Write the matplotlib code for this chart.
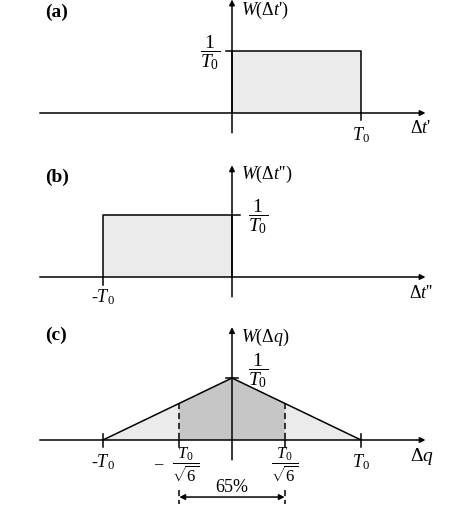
import numpy as np
import matplotlib
matplotlib.use('Agg')
import matplotlib.pyplot as plt

plt.rcParams['font.family'] = 'Liberation Serif'
plt.rcParams['mathtext.fontset'] = 'custom'
plt.rcParams['mathtext.rm'] = 'Liberation Serif'
plt.rcParams['mathtext.it'] = 'Liberation Serif:italic'
plt.rcParams['mathtext.bf'] = 'Liberation Serif:bold'

# data (x in units of T0, y in units of 1/T0)
rect_a_x = [0, 0, 1, 1]
rect_a_y = [0, 1, 1, 0]
rect_b_x = [-1, -1, 0, 0]
rect_b_y = [0, 1, 1, 0]
tri_x = [-1, 0, 1]
tri_y = [0, 1, 0]
inner_x = 0.408          # T0 / sqrt(6)
inner_share = '65%'

light = '#ebebeb'
dark = '#c6c6c6'
lw = 1.1
fs = 12
ffs = 14
frac = r'$\dfrac{1}{T_0}$'
frac6 = r'$\dfrac{T_0}{\sqrt{6}}$'
dash = (0, (4, 2.5))

fig = plt.figure(figsize=(4.74, 5.14), dpi=100)
W, H = 474, 514

def make_axes(top, bottom, y0):
    ax = fig.add_axes([0, 1 - bottom / H, 1, (bottom - top) / H])
    ax.set_xlim(-232 / 129, (474 - 232) / 129)
    ax.set_ylim(-(bottom - y0) / 62, (y0 - top) / 62)
    ax.axis('off')
    return ax

def arrow(ax, x0, y0, x1, y1, style='-|>'):
    ax.annotate('', xy=(x1, y1), xytext=(x0, y0),
                arrowprops=dict(arrowstyle=style, lw=lw, color='k',
                                mutation_scale=8, shrinkA=0, shrinkB=0))

#%% (a)
ax = make_axes(0, 165, 113)
ax.fill(rect_a_x, rect_a_y, color=light, lw=0)
ax.plot(rect_a_x, rect_a_y, color='k', lw=lw)
arrow(ax, -1.49, 0, 1.5, 0)
arrow(ax, 0, -0.32, 0, 1.83)
ax.plot([-0.05, 0], [1, 1], color='k', lw=lw)
ax.plot([1, 1], [0, -0.11], color='k', lw=lw)
ax.text(-0.17, 0.98, frac, fontsize=ffs, ha='center', va='center')
ax.text(1.0, -0.36, r'$T_0$', fontsize=fs + 1, ha='center', va='center')
ax.text(1.46, -0.25, r"$\Delta t$'", fontsize=fs + 1, ha='center', va='center')
ax.text(0.07, 1.66, r"$W(\Delta t$'$)$", fontsize=fs + 1, ha='left', va='center')
ax.text(-1.45, 1.62, '(a)', fontsize=fs + 2, fontweight='bold', ha='left', va='center')

#%% (b)
ax = make_axes(165, 320, 277)
ax.fill(rect_b_x, rect_b_y, color=light, lw=0)
ax.plot(rect_b_x, rect_b_y, color='k', lw=lw)
arrow(ax, -1.49, 0, 1.5, 0)
arrow(ax, 0, -0.32, 0, 1.8)
ax.plot([0, 0.06], [1, 1], color='k', lw=lw)
ax.plot([-1, -1], [0, -0.13], color='k', lw=lw)
ax.text(0.2, 0.98, frac, fontsize=ffs, ha='center', va='center')
ax.text(-1.0, -0.33, r'-$T_0$', fontsize=fs + 1, ha='center', va='center')
ax.text(1.47, -0.26, r"$\Delta t$''", fontsize=fs + 1, ha='center', va='center')
ax.text(0.07, 1.66, r"$W(\Delta t$''$)$", fontsize=fs + 1, ha='left', va='center')
ax.text(-1.45, 1.61, '(b)', fontsize=fs + 2, fontweight='bold', ha='left', va='center')

#%% (c)
ax = make_axes(320, 514, 440)
ax.fill(tri_x, tri_y, color=light, lw=0)
mid_y = 1 - inner_x
ax.fill([-inner_x, -inner_x, 0, inner_x, inner_x],
        [0, mid_y, 1, mid_y, 0], color=dark, lw=0)
ax.plot(tri_x, tri_y, color='k', lw=lw)
arrow(ax, -1.49, 0, 1.5, 0)
arrow(ax, 0, -0.32, 0, 1.82)
ax.plot([-0.05, 0.05], [1, 1], color='k', lw=lw)
for xv in [-1, 1]:
    ax.plot([xv, xv], [0.09, -0.11], color='k', lw=lw)
for xv in [-inner_x, inner_x]:
    ax.plot([xv, xv], [mid_y, 0], color='k', lw=lw, ls=dash)
    ax.plot([xv, xv], [0, -0.11], color='k', lw=lw)
    ax.plot([xv, xv], [-0.81, -1.03], color='k', lw=lw, ls=dash)
arrow(ax, -inner_x, -0.92, inner_x, -0.92, style='<|-|>')
ax.text(0, -0.77, inner_share, fontsize=fs + 1, ha='center', va='center')
ax.text(0.2, 1.12, frac, fontsize=ffs, ha='center', va='center')
ax.text(-1.0, -0.35, r'-$T_0$', fontsize=fs + 1, ha='center', va='center')
ax.text(1.0, -0.35, r'$T_0$', fontsize=fs + 1, ha='center', va='center')
ax.text(-0.57, -0.39, '–', fontsize=fs, ha='center', va='center')
ax.text(-inner_x + 0.05, -0.4, frac6, fontsize=fs, ha='center', va='center')
ax.text(inner_x, -0.4, frac6, fontsize=fs, ha='center', va='center')
ax.text(1.47, -0.27, r'$\Delta q$', fontsize=fs + 2, ha='center', va='center')
ax.text(0.07, 1.66, r'$W(\Delta q)$', fontsize=fs + 1, ha='left', va='center')
ax.text(-1.45, 1.69, '(c)', fontsize=fs + 2, fontweight='bold', ha='left', va='center')

fig.savefig('out.png', dpi=100)
